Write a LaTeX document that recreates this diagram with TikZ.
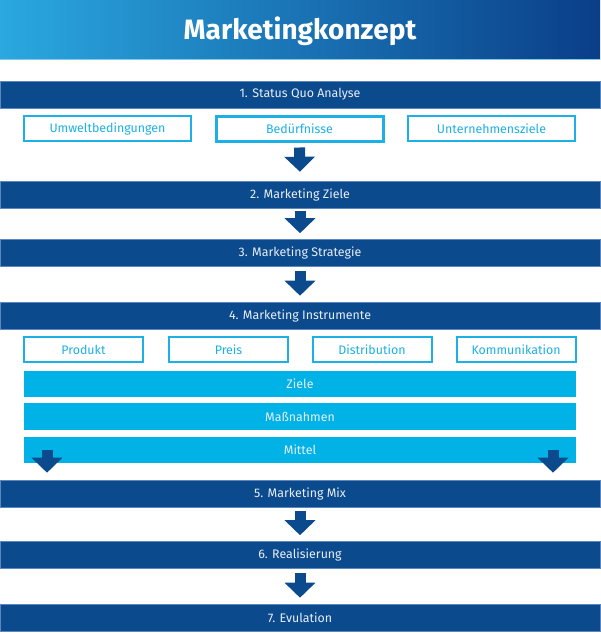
\documentclass[tikz,border=0pt]{standalone}
\usepackage{fontspec}
\setmainfont{Fira Sans}
\usepackage{tikz}
\usetikzlibrary{arrows.meta, positioning}
\definecolor{MkDark}{HTML}{0C4A8E}
\definecolor{MkEdge}{HTML}{5C86BC}
\definecolor{MkCyan}{HTML}{00B2E6}
\definecolor{MkLine}{HTML}{1CB0E6}
\definecolor{MkHeadL}{HTML}{2AA8E0}
\definecolor{MkHeadR}{HTML}{0A3E88}
\definecolor{MkPale}{HTML}{E8EEF6}

\tikzset{
  band/.style={fill=MkDark, draw=MkEdge, line width=0.6pt, minimum width=600pt, minimum height=27pt, inner sep=0pt, text=MkPale, font=\fontsize{12.4}{14}\selectfont},
  topic/.style={draw=MkLine, line width=2pt, fill=white, minimum height=25pt, inner sep=0pt, text=MkLine, font=\fontsize{12.4}{14}\selectfont},
  layer/.style={fill=MkCyan, minimum width=552pt, minimum height=26.5pt, inner sep=0pt, text=MkPale, font=\fontsize{12.4}{14}\selectfont},
  blockarrow/.style={draw=MkDark, line width=11pt, -{Triangle[length=15pt, width=30pt]}, shorten <=4pt, shorten >=6pt}
}

\begin{document}
\begin{tikzpicture}[x=1pt, y=-1pt]
  \useasboundingbox (0,0) rectangle (600,634);

  % header
  \shade[left color=MkHeadL, right color=MkHeadR] (0,0) rectangle (600,60);
  \draw[MkHeadL!60, line width=1pt] (0,60) -- (600,60);
  \node (title) at (300,31) {\fontsize{28}{32}\selectfont\bfseries\color{white}Marketingkonzept};

  % steps
  \node[band] (sqa) at (300,94.5) {1. Status Quo Analyse};
  \node[band] (ziele) at (300,195) {2. Marketing Ziele};
  \node[band] (strat) at (300,253) {3. Marketing Strategie};
  \node[band] (instr) at (300,315.5) {4. Marketing Instrumente};
  \node[band] (mix) at (300,493.5) {5. Marketing Mix};
  \node[band] (real) at (300,555) {6. Realisierung};
  \node[band] (eval) at (300,617.5) {7. Evulation};

  % analysis topics
  \node[topic, minimum width=167pt] (umwelt) at (107.5,128.5) {Umweltbedingungen};
  \node[topic, minimum width=167pt, line width=3pt] (bed) at (299.5,128.5) {Bedürfnisse};
  \node[topic, minimum width=167pt] (unt) at (491.5,128.5) {Unternehmensziele};

  % instruments
  \node[topic, minimum width=119pt] (prod) at (83.5,349.5) {Produkt};
  \node[topic, minimum width=119pt] (preis) at (228.5,349.5) {Preis};
  \node[topic, minimum width=119pt] (dist) at (372,349.5) {Distribution};
  \node[topic, minimum width=119pt] (komm) at (516,349.5) {Kommunikation};

  \node[layer] (zl) at (300,384) {Ziele};
  \node[layer] (mn) at (300,416.5) {Maßnahmen};
  \node[layer] (mt) at (300,450) {Mittel};

  % arrows
  \draw[blockarrow, shorten <=5pt, shorten >=9.5pt] (bed.south) -- (ziele.north);
  \draw[blockarrow, shorten <=2pt] (ziele) -- (strat);
  \draw[blockarrow] (strat) -- (instr);
  \draw[blockarrow] (mix) -- (real);
  \draw[blockarrow] (real) -- (eval);

  \coordinate (mL) at (47,450);
  \coordinate (mR) at (553,450);
  \draw[blockarrow, shorten <=0pt, shorten >=7pt] (mL) -- (mL |- mix.north);
  \draw[blockarrow, shorten <=0pt, shorten >=7pt] (mR) -- (mR |- mix.north);
\end{tikzpicture}
\end{document}
